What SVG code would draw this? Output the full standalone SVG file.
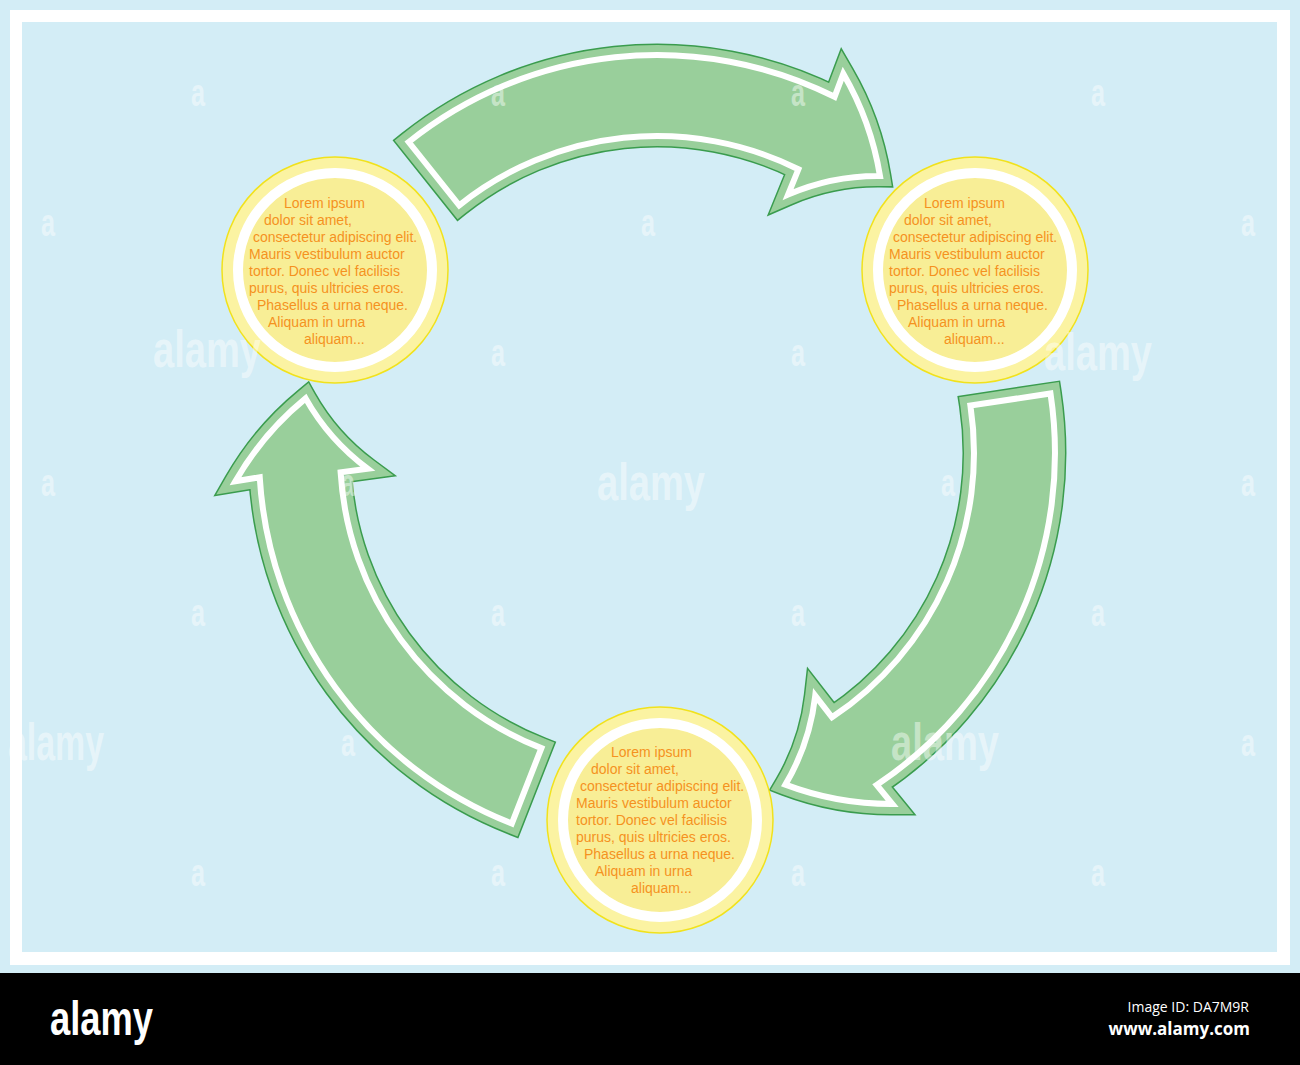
<svg xmlns="http://www.w3.org/2000/svg" xmlns:xlink="http://www.w3.org/1999/xlink" width="1300" height="1065" viewBox="0 0 1300 1065">
<style>
.ol{fill:none;stroke:#3a9c4e;stroke-width:23;stroke-linejoin:miter;stroke-miterlimit:10}
.bd{fill:none;stroke:#99cf9b;stroke-width:20;stroke-linejoin:miter;stroke-miterlimit:10}
.wl{fill:#99cf9b;stroke:#ffffff;stroke-width:6;stroke-linejoin:miter;stroke-miterlimit:10}
.cout{fill:#fbf3a2;stroke:#f1e21c;stroke-width:1.5}
.cring{fill:none;stroke:#ffffff;stroke-width:10}
.cin{fill:#f8ee96}
.t{font-family:"Liberation Sans",Arial,sans-serif;font-size:14px;fill:#f5921f}
.wm{font-family:"Liberation Sans",Arial,sans-serif;font-weight:bold;fill:#ffffff;fill-opacity:0.45}
.foot{font-family:"Open Sans","DejaVu Sans",sans-serif;fill:#ffffff}
</style>
<defs>
<path id="arr" d="M 408.7,142 A 398 398 0 0 1 834.6,96.8 L 843.3,73.7 Q 871.1,121.5 880,176 Q 832,175.5 788.1,194.6 L 798.4,169.3 A 317 317 0 0 0 459.2,205.3 Z"/>
</defs>
<rect x="0" y="0" width="1300" height="1065" fill="#d3edf6"/>
<rect x="10" y="10" width="1280" height="955" fill="#ffffff"/>
<rect x="22" y="22" width="1255" height="930" fill="#d3edf6"/>
<rect x="0" y="973" width="1300" height="92" fill="#000000"/>

<g id="connectors">
<g id="arrow-top">
<use xlink:href="#arr" class="ol"/><use xlink:href="#arr" class="bd"/><use xlink:href="#arr" class="wl"/>
</g>
<g id="arrow-right" transform="rotate(120 657 453)">
<use xlink:href="#arr" class="ol"/><use xlink:href="#arr" class="bd"/><use xlink:href="#arr" class="wl"/>
</g>
<g id="arrow-left" transform="rotate(240 657 453)">
<use xlink:href="#arr" class="ol"/><use xlink:href="#arr" class="bd"/><use xlink:href="#arr" class="wl"/>
</g>
</g>

<g id="node-left">
<circle class="cout" cx="335" cy="270" r="113"/>
<circle class="cin" cx="335" cy="270" r="92"/>
<circle class="cring" cx="335" cy="270" r="97"/>
<text class="t" x="284" y="208">Lorem ipsum</text>
<text class="t" x="264" y="225">dolor sit amet,</text>
<text class="t" x="253" y="242">consectetur adipiscing elit.</text>
<text class="t" x="249" y="259">Mauris vestibulum auctor</text>
<text class="t" x="249" y="276">tortor. Donec vel facilisis</text>
<text class="t" x="249" y="293">purus, quis ultricies eros.</text>
<text class="t" x="257" y="310">Phasellus a urna neque.</text>
<text class="t" x="268" y="327">Aliquam in urna</text>
<text class="t" x="304" y="344">aliquam...</text>
</g>

<g id="node-right" transform="translate(640 0)">
<circle class="cout" cx="335" cy="270" r="113"/>
<circle class="cin" cx="335" cy="270" r="92"/>
<circle class="cring" cx="335" cy="270" r="97"/>
<text class="t" x="284" y="208">Lorem ipsum</text>
<text class="t" x="264" y="225">dolor sit amet,</text>
<text class="t" x="253" y="242">consectetur adipiscing elit.</text>
<text class="t" x="249" y="259">Mauris vestibulum auctor</text>
<text class="t" x="249" y="276">tortor. Donec vel facilisis</text>
<text class="t" x="249" y="293">purus, quis ultricies eros.</text>
<text class="t" x="257" y="310">Phasellus a urna neque.</text>
<text class="t" x="268" y="327">Aliquam in urna</text>
<text class="t" x="304" y="344">aliquam...</text>
</g>

<g id="node-bottom" transform="translate(325 550)">
<circle class="cout" cx="335" cy="270" r="113"/>
<circle class="cin" cx="335" cy="270" r="92"/>
<circle class="cring" cx="335" cy="270" r="97"/>
<text class="t" x="286" y="207">Lorem ipsum</text>
<text class="t" x="266" y="224">dolor sit amet,</text>
<text class="t" x="255" y="241">consectetur adipiscing elit.</text>
<text class="t" x="251" y="258">Mauris vestibulum auctor</text>
<text class="t" x="251" y="275">tortor. Donec vel facilisis</text>
<text class="t" x="251" y="292">purus, quis ultricies eros.</text>
<text class="t" x="259" y="309">Phasellus a urna neque.</text>
<text class="t" x="270" y="326">Aliquam in urna</text>
<text class="t" x="306" y="343">aliquam...</text>
</g>

<g id="watermark">
<g font-size="38" text-anchor="middle">
<text class="wm" x="198" y="106" textLength="14" lengthAdjust="spacingAndGlyphs">a</text>
<text class="wm" x="498" y="106" textLength="14" lengthAdjust="spacingAndGlyphs">a</text>
<text class="wm" x="798" y="106" textLength="14" lengthAdjust="spacingAndGlyphs">a</text>
<text class="wm" x="1098" y="106" textLength="14" lengthAdjust="spacingAndGlyphs">a</text>
<text class="wm" x="48" y="236" textLength="14" lengthAdjust="spacingAndGlyphs">a</text>
<text class="wm" x="648" y="236" textLength="14" lengthAdjust="spacingAndGlyphs">a</text>
<text class="wm" x="1248" y="236" textLength="14" lengthAdjust="spacingAndGlyphs">a</text>
<text class="wm" x="498" y="366" textLength="14" lengthAdjust="spacingAndGlyphs">a</text>
<text class="wm" x="798" y="366" textLength="14" lengthAdjust="spacingAndGlyphs">a</text>
<text class="wm" x="48" y="496" textLength="14" lengthAdjust="spacingAndGlyphs">a</text>
<text class="wm" x="348" y="496" textLength="14" lengthAdjust="spacingAndGlyphs">a</text>
<text class="wm" x="948" y="496" textLength="14" lengthAdjust="spacingAndGlyphs">a</text>
<text class="wm" x="1248" y="496" textLength="14" lengthAdjust="spacingAndGlyphs">a</text>
<text class="wm" x="198" y="626" textLength="14" lengthAdjust="spacingAndGlyphs">a</text>
<text class="wm" x="498" y="626" textLength="14" lengthAdjust="spacingAndGlyphs">a</text>
<text class="wm" x="798" y="626" textLength="14" lengthAdjust="spacingAndGlyphs">a</text>
<text class="wm" x="1098" y="626" textLength="14" lengthAdjust="spacingAndGlyphs">a</text>
<text class="wm" x="348" y="756" textLength="14" lengthAdjust="spacingAndGlyphs">a</text>
<text class="wm" x="1248" y="756" textLength="14" lengthAdjust="spacingAndGlyphs">a</text>
<text class="wm" x="198" y="886" textLength="14" lengthAdjust="spacingAndGlyphs">a</text>
<text class="wm" x="498" y="886" textLength="14" lengthAdjust="spacingAndGlyphs">a</text>
<text class="wm" x="798" y="886" textLength="14" lengthAdjust="spacingAndGlyphs">a</text>
<text class="wm" x="1098" y="886" textLength="14" lengthAdjust="spacingAndGlyphs">a</text>
</g>
<g font-size="52" text-anchor="middle">
<text class="wm" x="207" y="367" textLength="108" lengthAdjust="spacingAndGlyphs">alamy</text>
<text class="wm" x="1098" y="370" textLength="108" lengthAdjust="spacingAndGlyphs">alamy</text>
<text class="wm" x="651" y="500" textLength="108" lengthAdjust="spacingAndGlyphs">alamy</text>
<text class="wm" x="56" y="760" textLength="96" lengthAdjust="spacingAndGlyphs">alamy</text>
<text class="wm" x="945" y="760" textLength="108" lengthAdjust="spacingAndGlyphs">alamy</text>
</g>
</g>

<g id="footer">
<text x="50" y="1035" font-family="Liberation Sans, Arial, sans-serif" font-weight="bold" font-size="48" fill="#ffffff" textLength="103" lengthAdjust="spacingAndGlyphs">alamy</text>
<text class="foot" x="1249" y="1012" font-size="14" text-anchor="end">Image ID: DA7M9R</text>
<text class="foot" x="1250" y="1035" font-size="17" font-weight="bold" text-anchor="end">www.alamy.com</text>
</g>
</svg>
